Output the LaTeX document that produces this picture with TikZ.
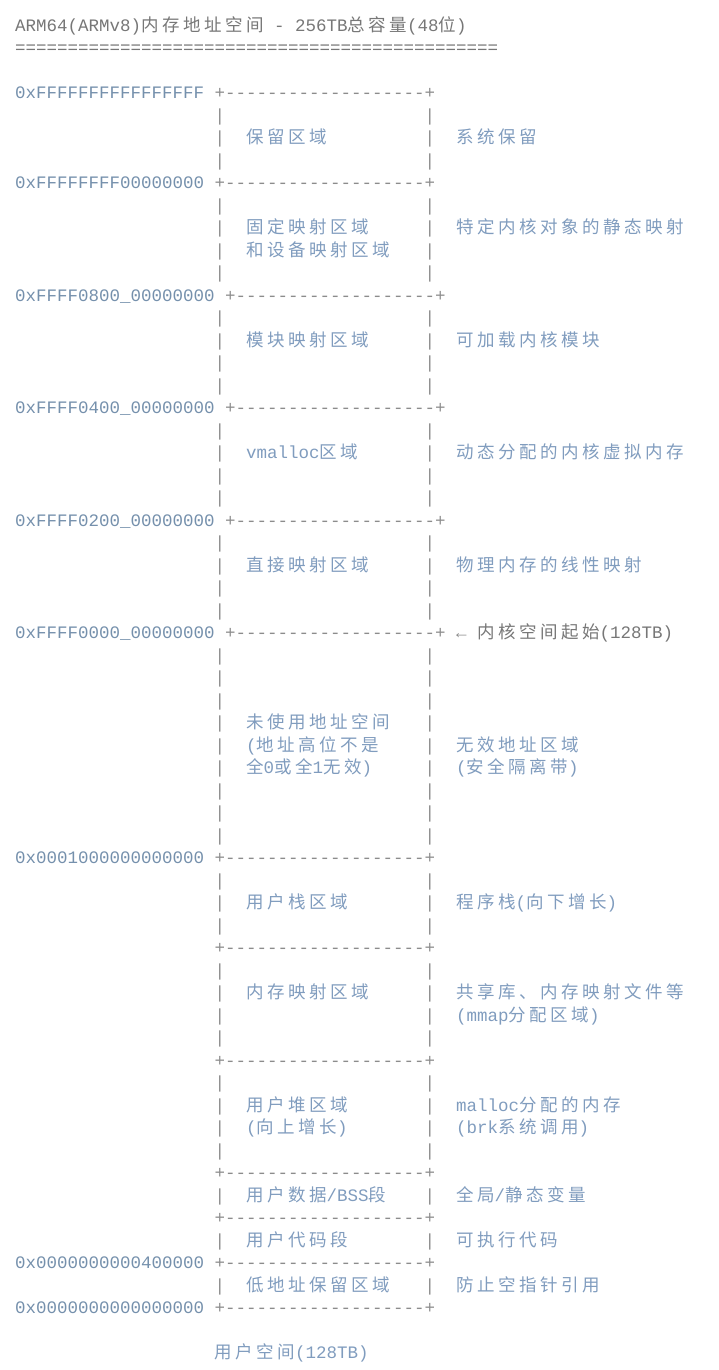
\documentclass[tikz,border=0pt]{standalone}
\usepackage{fontspec}
\setmainfont{Liberation Mono}[Ligatures=TeXOff]
\newfontfamily\cjf{Noto Sans CJK SC}[LetterSpace=20]
\newcommand\cj[1]{{\cjf #1}}
\definecolor{titlec}{HTML}{777777}
\definecolor{addrc}{HTML}{7590AC}
\definecolor{linec}{HTML}{8C8C8C}
\definecolor{labc}{HTML}{809CBE}
\tikzset{txt/.style={anchor=west,inner sep=0pt,text height=15pt,text depth=3.5pt,font=\fontsize{17.5pt}{20pt}\selectfont}}
\newcommand\T[4][labc]{\node[txt,text=#1] (r#2c#3) at ({15+10.5*#3},{93+22.5*#2}) {#4};}
\newcommand\dsh{+-------------------+}
\begin{document}
\begin{tikzpicture}[x=1pt,y=-1pt]
\useasboundingbox (0,0) rectangle (718,1370);
\T[titlec]{-3}{0}{ARM64(ARMv8)\cj{内存地址空间} - 256TB\cj{总容量}(48\cj{位})}
\T[titlec]{-2}{0}{==============================================}
% separators
\foreach \r/\a/\c in {0/0xFFFFFFFFFFFFFFFF/19,4/0xFFFFFFFF00000000/19,9/0xFFFF0800\_00000000/20,14/0xFFFF0400\_00000000/20,19/0xFFFF0200\_00000000/20,24/0xFFFF0000\_00000000/20,34/0x0001000000000000/19,52/0x0000000000400000/19,54/0x0000000000000000/19}{
  \T[addrc]{\r}{0}{\a}
  \T[linec]{\r}{\c}{\dsh}
}
\foreach \r in {38,43,48,50}{\T[linec]{\r}{19}{\dsh}}
% pipes
\foreach \r in {1,2,3,5,6,7,8,10,11,12,13,15,16,17,18,20,21,22,23,25,26,27,28,29,30,31,32,33,35,36,37,39,40,41,42,44,45,46,47,49,51,53}{
  \T[linec]{\r}{19}{|}
  \T[linec]{\r}{39}{|}
}
% labels
\T{2}{22}{\cj{保留区域}}\T{2}{42}{\cj{系统保留}}
\T{6}{22}{\cj{固定映射区域}}\T{6}{42}{\cj{特定内核对象的静态映射}}
\T{7}{22}{\cj{和设备映射区域}}
\T{11}{22}{\cj{模块映射区域}}\T{11}{42}{\cj{可加载内核模块}}
\T{16}{22}{vmalloc\cj{区域}}\T{16}{42}{\cj{动态分配的内核虚拟内存}}
\T{21}{22}{\cj{直接映射区域}}\T{21}{42}{\cj{物理内存的线性映射}}
\T[linec]{24}{42}{←}\T[titlec]{24}{44}{\cj{内核空间起始}(128TB)}
\T{28}{22}{\cj{未使用地址空间}}
\T{29}{22}{(\cj{地址高位不是}}\T{29}{42}{\cj{无效地址区域}}
\T{30}{22}{\cj{全}0\cj{或全}1\cj{无效})}\T{30}{42}{(\cj{安全隔离带})}
\T{36}{22}{\cj{用户栈区域}}\T{36}{42}{\cj{程序栈}(\cj{向下增长})}
\T{40}{22}{\cj{内存映射区域}}\T{40}{42}{\cj{共享库、内存映射文件等}}
\T{41}{42}{(mmap\cj{分配区域})}
\T{45}{22}{\cj{用户堆区域}}\T{45}{42}{malloc\cj{分配的内存}}
\T{46}{22}{(\cj{向上增长})}\T{46}{42}{(brk\cj{系统调用})}
\T{49}{22}{\cj{用户数据}/BSS\cj{段}}\T{49}{42}{\cj{全局}/\cj{静态变量}}
\T{51}{22}{\cj{用户代码段}}\T{51}{42}{\cj{可执行代码}}
\T{53}{22}{\cj{低地址保留区域}}\T{53}{42}{\cj{防止空指针引用}}
\T{56}{19}{\cj{用户空间}(128TB)}
\end{tikzpicture}
\end{document}
